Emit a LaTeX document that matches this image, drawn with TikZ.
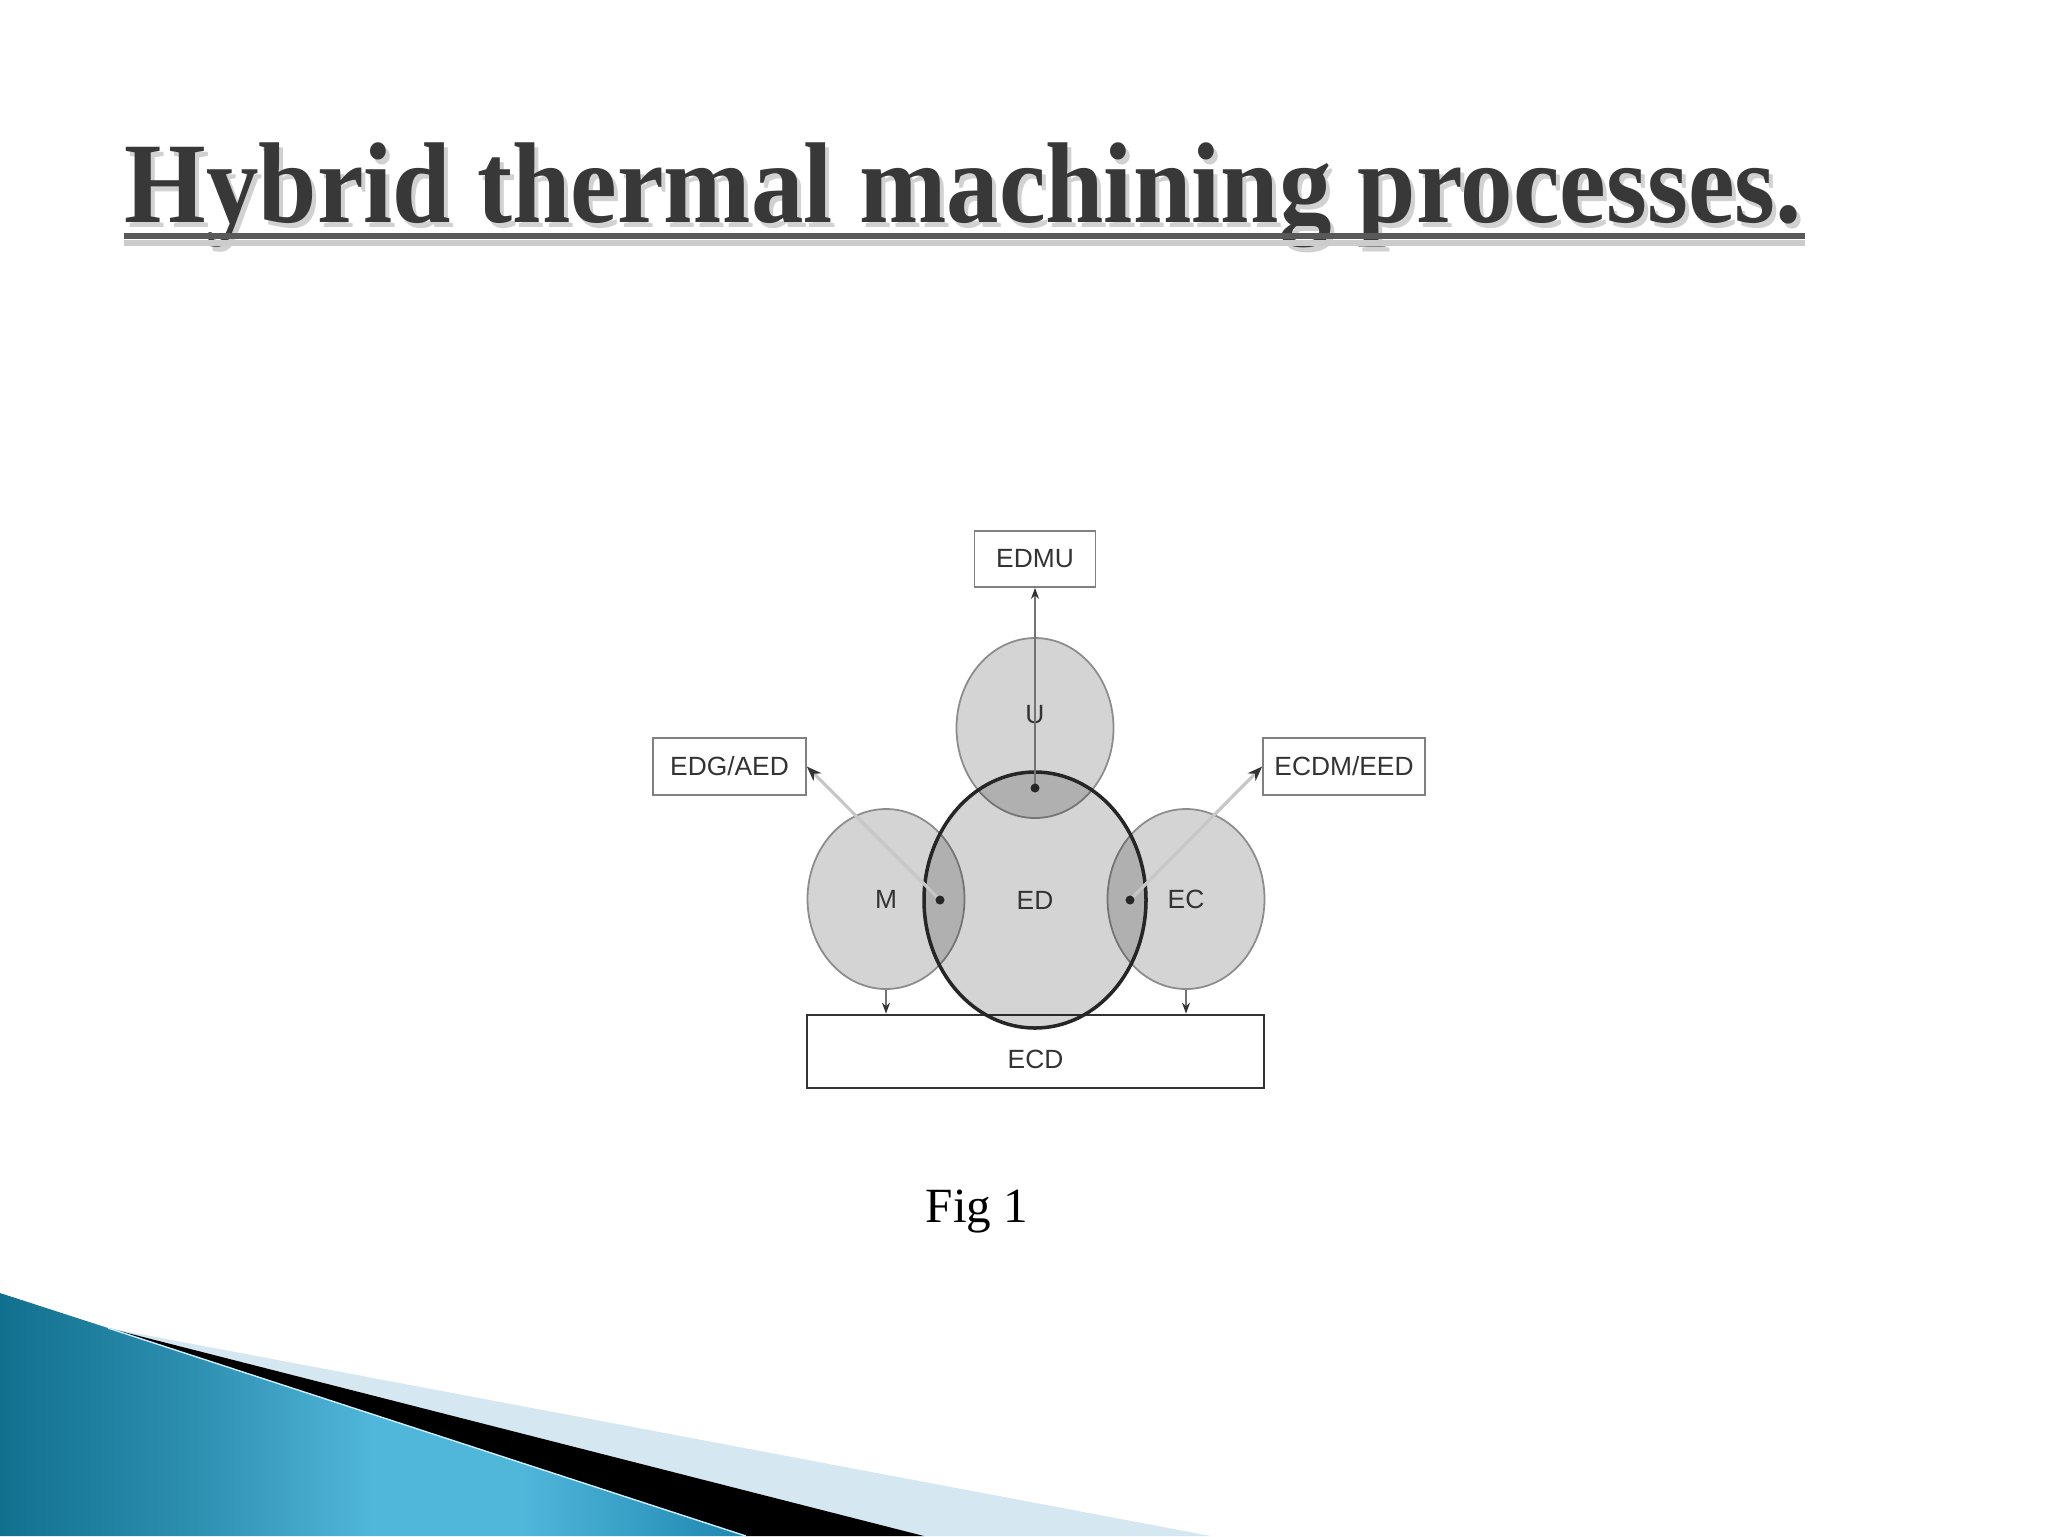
\documentclass[tikz,border=0pt]{standalone}
\usepackage{fontspec}
\setmainfont{Liberation Serif}
\newfontfamily\labelfont{Liberation Sans}
\usepackage{tikz}
\usepackage{tkz-euclide}
\usetikzlibrary{arrows.meta,shapes.geometric}
\definecolor{tealdark}{HTML}{12708F}
\definecolor{teallight}{HTML}{50B6DA}
\definecolor{tealmid}{HTML}{1E86B0}
\definecolor{bandlight}{HTML}{D5E8F1}
\pgfdeclarehorizontalshading{swoosh}{100bp}{color(0bp)=(tealdark); color(25bp)=(tealdark); color(38bp)=(tealdark!55!teallight); color(50bp)=(teallight); color(60bp)=(teallight); color(75bp)=(tealmid); color(100bp)=(tealmid)}
\newcommand{\slidetitle}{\scalebox{0.913}[1]{\fontsize{32.7}{38}\selectfont\bfseries Hybrid thermal machining processes.}}
\tikzset{
	ring/.style={ellipse, draw=black!45, line width=0.5pt, fill=black, fill opacity=0.17, text opacity=1, inner sep=0pt, minimum width=15.7mm, minimum height=18mm, font=\labelfont\fontsize{7.5}{9}\selectfont, text=black!80},
	bigring/.style={ring, draw=black!85, line width=1pt, minimum width=22.2mm, minimum height=25.6mm},
	procbox/.style={draw=black!50, line width=0.5pt, fill=white, inner sep=0pt, minimum height=5.7mm, font=\labelfont\fontsize{7.5}{9}\selectfont, text=black!80},
	link/.style={draw=black!22, line width=0.9pt, -{Stealth[length=1.5mm,width=1.1mm,color=black!80]}},
	feed/.style={draw=black!55, line width=0.4pt, -{Stealth[length=1.1mm,width=0.8mm,color=black!80]}},
}

\begin{document}
\begin{tikzpicture}[x=0.1mm, y=-0.1mm]
	\useasboundingbox (0,0) rectangle (2048,1536);
	\fill[white] (0,0) rectangle (2048,1536);
	
	\node[anchor=base west, inner sep=0pt, text=black!18] (titleshadow) at (128,227) {\slidetitle};
	\node[anchor=base west, inner sep=0pt, text=black!78] (title) at (124,222) {\slidetitle};
	\draw[black!20, line width=0.6mm] (124,243) -- (1805,243);
	\draw[black!65, line width=0.6mm] (124,236) -- (1805,236);
	
	\tkzDefPoint(886,899){M};
	\tkzDefPoint(1186,899){C};
	\tkzDefPoint(1035,728){U};
	\tkzDefPoint(1035,900){D};
	\tkzDefPoint(940,900){mdot};
	\tkzDefPoint(1130,900){cdot};
	\tkzDefPoint(1035,788){udot};
	
	\node[procbox, line width=0.8pt, draw=black!80, minimum width=45.7mm, minimum height=7.3mm, label={[yshift=-0.8mm, font=\labelfont\fontsize{7.5}{9}\selectfont, text=black!80]center:ECD}] (ecd) at (1035.5,1051.5) {};
	\node[procbox, minimum width=12.1mm, minimum height=5.6mm] (edmu) at (1035,559) {EDMU};
	\node[procbox, minimum width=15.3mm] (edg) at (729.5,766.5) {EDG/AED};
	\node[procbox, minimum width=16.2mm] (ecdm) at (1344,766.5) {ECDM/EED};
	
	\node[ring] (m) at (M) {M};
	\node[ring] (ec) at (C) {EC};
	\node[ring, label={[yshift=1.3mm, font=\labelfont\fontsize{7.5}{9}\selectfont, text=black!80]center:U}] (u) at (U) {};
	\node[bigring] (ed) at (D) {ED};
	
	\draw[link] (mdot) -- (edg.east);
	\draw[link] (cdot) -- (ecdm.west);
	\draw[feed] (udot) -- (edmu.south);
	\draw[feed] (m.south) -- (m.south |- ecd.north);
	\draw[feed] (ec.south) -- (ec.south |- ecd.north);
	
	\fill[black!85] (mdot) circle (4.5);
	\fill[black!85] (cdot) circle (4.5);
	\fill[black!85] (udot) circle (4.5);
	
	\node[anchor=base, inner sep=0pt, font=\fontsize{14}{16}\selectfont] (fig) at (977,1222) {Fig 1};
	
	\fill[bandlight] (108,1328) -- (1211,1536) -- (924,1536) -- cycle;
	\fill[black] (108,1328) -- (924,1536) -- (746,1536) -- cycle;
	\shade[shading=swoosh] (0,1293) -- (108,1328) -- (746,1536) -- (0,1536) -- cycle;
	\draw[cyan!20, line width=0.4pt] (108,1328) -- (746,1536);
\end{tikzpicture}
\end{document}
